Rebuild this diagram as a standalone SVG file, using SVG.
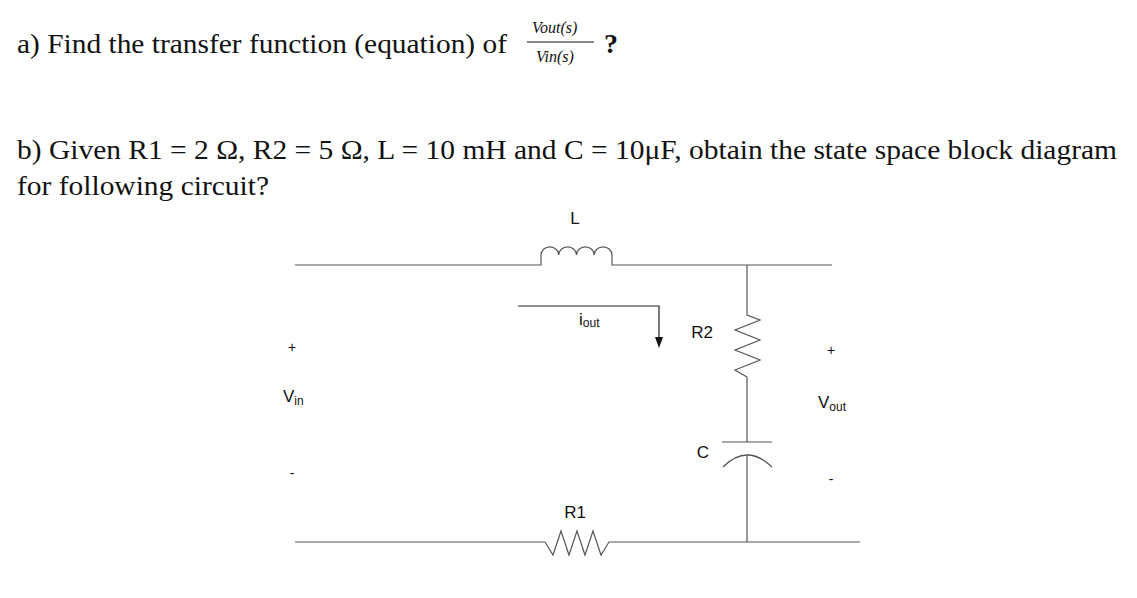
<svg xmlns="http://www.w3.org/2000/svg" width="1137" height="598" viewBox="0 0 1137 598">
<style>
.t{font-family:"Liberation Serif",serif;font-size:28px;fill:#111}
.f{font-family:"Liberation Serif",serif;font-size:16px;font-style:italic;fill:#111}
.s{font-family:"Liberation Sans",sans-serif;font-size:17px;fill:#111}
.p{font-family:"Liberation Sans",sans-serif;font-size:14px;fill:#111}
.w{fill:none;stroke:#555;stroke-width:1.2}
</style>
<rect width="1137" height="598" fill="#fff"/>
<text class="t" x="17" y="53" textLength="490" lengthAdjust="spacingAndGlyphs">a) Find the transfer function (equation) of</text>
<text class="f" x="532" y="33">Vout(s)</text>
<line x1="527" y1="42" x2="594" y2="42" stroke="#111" stroke-width="1"/>
<text class="f" x="536" y="62">Vin(s)</text>
<text class="t" x="604" y="53" font-weight="bold">?</text>
<text class="t" x="17" y="159" textLength="1100" lengthAdjust="spacingAndGlyphs">b) Given R1 = 2 Ω, R2 = 5 Ω, L = 10 mH and C = 10μF, obtain the state space block diagram</text>
<text class="t" x="17" y="195" textLength="252" lengthAdjust="spacingAndGlyphs">for following circuit?</text>
<g id="connectors">
<path class="w" d="M295 265H541V255A8.7 8 0 0 1 558.7 255A8.7 8 0 0 1 576.5 255A8.7 8 0 0 1 594.2 255A8.7 8 0 0 1 612 255V265H832"/>
<path class="w" d="M747 265V315L760 320L735 330L760 340L735 350L760 360L735 370L747 377V442"/>
<line class="w" x1="722" y1="442" x2="772" y2="442"/>
<path class="w" d="M723 467Q747 443 772 467"/>
<path class="w" d="M747 455V542"/>
<path class="w" d="M295 542H545L553 555L561 531L569 555L577 531L585 555L593 531L601 555L609 542H860"/>
<path d="M518 306H659V337" fill="none" stroke="#222" stroke-width="1.2"/>
<path d="M655 337L663 337L659 348Z" fill="#111"/>
</g>
<g id="labels">
<text class="s" x="575" y="224" text-anchor="middle">L</text>
<text class="s" x="579" y="325">i<tspan style="font-size:12px" dy="2">out</tspan></text>
<text class="s" x="702" y="338" text-anchor="middle">R2</text>
<text class="s" x="703" y="458" text-anchor="middle">C</text>
<text class="s" x="575" y="518" text-anchor="middle">R1</text>
<text class="p" x="292" y="352" text-anchor="middle">+</text>
<text class="s" x="283" y="402">V<tspan style="font-size:12px" dy="3">in</tspan></text>
<text class="p" x="292" y="478" text-anchor="middle">-</text>
<text class="p" x="831" y="355" text-anchor="middle">+</text>
<text class="s" x="818" y="408">V<tspan style="font-size:12px" dy="3">out</tspan></text>
<text class="p" x="831" y="484" text-anchor="middle">-</text>
</g>
</svg>
